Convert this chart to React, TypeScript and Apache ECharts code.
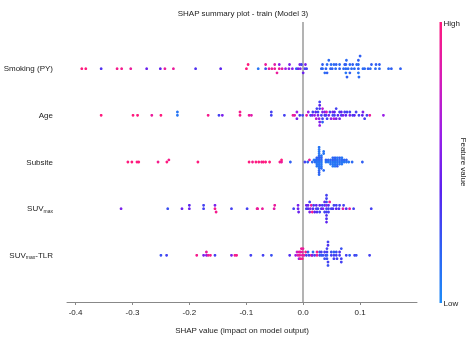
import React, { useEffect, useRef } from "react";
import * as echarts from "echarts";

// [SHAP value, normalized feature value (0 = low, 1 = high)]
const smoking: number[][] = [
  [-0.389, 1], [-0.382, 1], [-0.355, 0.35], [-0.327, 0.95], [-0.319, 0.95], [-0.303, 0.9], [-0.275, 0.45], [-0.251, 0.4], [-0.243, 0.9], [-0.228, 0.9], [-0.189, 0.35], [-0.145, 0.4],
  [-0.0997, 1], [-0.0968, 1], [-0.079, 0.1], [-0.066, 0.25], [-0.066, 0.9], [-0.06, 0.9], [-0.055, 0.9], [-0.05, 0.9], [-0.05, 0.85], [-0.046, 0.9], [-0.042, 0.9], [-0.042, 0.55], [-0.037, 0.85], [-0.031, 0.6], [-0.025, 0.55], [-0.024, 0.5], [-0.019, 0.55], [-0.012, 0.2], [-0.009, 0.45], [-0.006, 0.5], [-0.005, 0.5], [-0.003, 0.3], [0.0, 0.45], [0.003, 0.3], [0.004, 0.5], [0.006, 0.3],
  [0.032, 0.2], [0.034, 0.15], [0.034, 0.2], [0.038, 0.15], [0.04, 0.2], [0.042, 0.15], [0.042, 0.2], [0.045, 0.15], [0.048, 0.2], [0.049, 0.15], [0.051, 0.2], [0.054, 0.15], [0.057, 0.15], [0.058, 0.2], [0.064, 0.2], [0.064, 0.15], [0.071, 0.15], [0.073, 0.2], [0.075, 0.15], [0.075, 0.2], [0.075, 0.1], [0.076, 0.15], [0.077, 0.2], [0.079, 0.15], [0.082, 0.15], [0.082, 0.2], [0.085, 0.15], [0.087, 0.2], [0.09, 0.15], [0.094, 0.15], [0.097, 0.2], [0.097, 0.15], [0.097, 0.1], [0.097, 0.2], [0.098, 0.15], [0.1, 0.2], [0.105, 0.15], [0.108, 0.15], [0.114, 0.2], [0.118, 0.15], [0.12, 0.2], [0.127, 0.15], [0.128, 0.2], [0.134, 0.15], [0.134, 0.2], [0.15, 0.15], [0.155, 0.2], [0.171, 0.2],
];

const age: number[][] = [
  [-0.355, 1], [-0.299, 1], [-0.291, 1], [-0.266, 0.9], [-0.25, 1], [-0.221, 0.1], [-0.221, 0.1], [-0.167, 0.95], [-0.148, 0.3], [-0.142, 0.5], [-0.111, 0.95], [-0.111, 0.95],
  [-0.095, 0.9], [-0.091, 0.85], [-0.056, 0.3], [-0.056, 0.3], [-0.033, 0.3], [-0.018, 0.9], [-0.015, 0.85], [-0.011, 0.6], [-0.011, 0.5], [-0.006, 0.3], [-0.001, 0.3], [0.006, 0.9], [0.009, 0.6], [0.013, 0.3],
  [0.016, 0.5], [0.017, 0.3], [0.02, 0.6], [0.022, 0.4], [0.023, 0.7], [0.024, 0.3], [0.026, 0.5], [0.026, 0.3], [0.028, 0.6], [0.029, 0.3], [0.029, 0.5], [0.029, 0.4], [0.029, 0.6], [0.029, 0.3], [0.032, 0.3], [0.034, 0.5], [0.034, 0.3], [0.034, 0.7], [0.034, 0.2], [0.038, 0.4], [0.038, 0.5], [0.04, 0.3], [0.041, 0.8], [0.042, 0.3], [0.045, 0.5], [0.047, 0.3], [0.049, 0.6], [0.052, 0.3], [0.052, 0.5], [0.054, 0.7], [0.055, 0.3], [0.055, 0.4], [0.058, 0.5], [0.058, 0.3], [0.061, 0.4], [0.064, 0.3], [0.064, 0.5], [0.067, 0.3], [0.067, 0.4], [0.07, 0.5], [0.073, 0.3], [0.075, 0.4], [0.077, 0.3], [0.082, 0.5], [0.082, 0.3], [0.087, 0.3], [0.09, 0.4], [0.093, 0.3], [0.098, 0.3], [0.104, 0.4], [0.105, 0.5], [0.108, 0.3], [0.112, 0.3], [0.117, 0.9], [0.141, 0.6],
];

const subsite: number[][] = [
  [-0.308, 1], [-0.301, 1], [-0.292, 1], [-0.289, 1], [-0.255, 0.95], [-0.2395, 1], [-0.236, 0.95], [-0.185, 1],
  [-0.095, 1], [-0.089, 0.95], [-0.083, 1], [-0.078, 1], [-0.073, 0.95], [-0.07, 1], [-0.066, 1], [-0.059, 1],
  [-0.041, 0.95], [-0.038, 0.9], [-0.038, 1], [-0.0225, 0.2],
  [0.003, 0.3], [0.008, 0.2], [0.011, 0.9], [0.016, 0.15],
  [0.019, 0.1], [0.021, 0.15], [0.022, 0.1],
  [0.024, 0.1], [0.024, 0.15], [0.024, 0.1], [0.024, 0.2], [0.024, 0.1],
  [0.028, 0.1], [0.028, 0.15], [0.028, 0.1], [0.028, 0.2], [0.028, 0.1], [0.028, 0.15], [0.028, 0.1], [0.028, 0.1], [0.028, 0.15], [0.028, 0.1], [0.028, 0.2], [0.028, 0.1], [0.028, 0.15], [0.028, 0.1],
  [0.032, 0.1], [0.032, 0.15], [0.032, 0.1], [0.032, 0.2], [0.032, 0.1], [0.032, 0.1], [0.032, 0.15],
  [0.036, 0.1], [0.036, 0.15], [0.036, 0.1],
  [0.04, 0.1], [0.04, 0.2], [0.044, 0.1], [0.044, 0.15],
  [0.048, 0.1], [0.048, 0.15], [0.048, 0.1],
  [0.052, 0.1], [0.052, 0.2], [0.052, 0.1], [0.052, 0.15], [0.052, 0.1],
  [0.056, 0.1], [0.056, 0.15], [0.056, 0.1], [0.056, 0.2], [0.056, 0.1],
  [0.06, 0.1], [0.06, 0.15], [0.06, 0.1], [0.06, 0.1], [0.06, 0.2],
  [0.064, 0.15], [0.064, 0.1], [0.064, 0.1], [0.064, 0.2],
  [0.068, 0.1], [0.068, 0.15], [0.068, 0.1], [0.068, 0.1],
  [0.072, 0.1], [0.072, 0.15], [0.076, 0.1], [0.076, 0.2], [0.08, 0.1], [0.086, 0.15], [0.104, 0.2],
];

const suvMax: number[][] = [
  [-0.32, 0.5], [-0.238, 0.25], [-0.213, 0.45], [-0.2, 0.45], [-0.2, 0.4], [-0.175, 0.3], [-0.175, 0.3], [-0.155, 0.95], [-0.155, 0.5], [-0.153, 0.95], [-0.126, 0.3],
  [-0.0985, 0.3], [-0.081, 0.9], [-0.08, 0.9], [-0.0716, 0.9], [-0.051, 0.85], [-0.05, 0.9], [-0.0167, 0.3], [-0.009, 0.45], [-0.009, 0.5], [-0.008, 0.45],
  [0.0056, 0.3], [0.0056, 0.45], [0.0085, 0.35], [0.0085, 0.45], [0.0114, 0.5], [0.0114, 0.3], [0.0126, 0.55], [0.0143, 0.9], [0.0161, 0.95], [0.0173, 0.35], [0.0184, 0.3], [0.0202, 0.4], [0.0231, 0.3], [0.0231, 0.45], [0.0243, 0.35], [0.026, 0.3], [0.029, 0.4], [0.029, 0.3], [0.0319, 0.35], [0.0336, 0.3], [0.0348, 0.5],
  [0.0377, 0.3], [0.0377, 0.3], [0.0377, 0.45],
  [0.041, 0.3], [0.041, 0.6], [0.041, 0.3], [0.041, 0.25], [0.041, 0.35], [0.041, 0.3], [0.041, 0.35], [0.041, 0.3], [0.041, 0.4],
  [0.0445, 0.3], [0.0445, 0.35], [0.0445, 0.3], [0.0465, 0.9],
  [0.0494, 0.3], [0.0523, 0.35], [0.054, 0.3], [0.0582, 0.4], [0.0582, 0.3], [0.0629, 0.35], [0.064, 0.3], [0.0699, 0.85], [0.071, 0.3], [0.0757, 0.35], [0.0816, 0.9], [0.0886, 0.3], [0.1196, 0.3],
];

const suvMaxTlr: number[][] = [
  [-0.25, 0.25], [-0.24, 0.3], [-0.187, 0.95], [-0.175, 0.5], [-0.17, 0.55], [-0.17, 0.9], [-0.167, 0.9], [-0.163, 0.95], [-0.155, 0.3], [-0.126, 0.5], [-0.12, 0.95], [-0.117, 0.95],
  [-0.092, 0.3], [-0.0705, 0.3], [-0.0558, 0.25], [-0.0237, 0.35],
  [-0.0132, 0.6], [-0.0108, 0.75], [-0.0091, 0.9], [-0.0073, 0.9], [-0.0073, 0.6], [-0.006, 0.9], [-0.005, 0.85], [-0.005, 0.95], [-0.0032, 0.9], [-0.0015, 0.85], [-0.0015, 0.9], [-0.0015, 0.95], [-0.0003, 0.9], [0.0015, 0.9], [0.0044, 0.95],
  [0.0056, 0.3], [0.0085, 0.2], [0.0102, 0.3], [0.0143, 0.9], [0.0161, 0.5], [0.0173, 0.15], [0.0202, 0.3], [0.0243, 0.9], [0.0243, 0.95], [0.029, 0.3], [0.029, 0.25], [0.0319, 0.2], [0.0319, 0.3], [0.0348, 0.25], [0.0377, 0.3], [0.0377, 0.25], [0.0395, 0.3],
  [0.0418, 0.2], [0.0418, 0.3], [0.0418, 0.25], [0.0418, 0.3], [0.0436, 0.3], [0.0436, 0.35], [0.0436, 0.25], [0.0436, 0.3], [0.0494, 0.3], [0.0494, 0.25], [0.054, 0.3], [0.054, 0.2], [0.054, 0.3], [0.0582, 0.3], [0.0582, 0.25], [0.0594, 0.3], [0.064, 0.3], [0.064, 0.35], [0.067, 0.3], [0.067, 0.25], [0.067, 0.3], [0.0757, 0.3], [0.0816, 0.2], [0.0904, 0.3], [0.0933, 0.25], [0.1167, 0.3],
];

// bottom to top
const features = ["SUVmax-TLR", "SUVmax", "Subsite", "Age", "Smoking (PY)"];
const featureData = [suvMaxTlr, suvMax, subsite, age, smoking];
const xTicks = [-0.4, -0.3, -0.2, -0.1, 0.0, 0.1];

const FONT = "'Liberation Sans', Arial, sans-serif";
const FS = 8;

// SHAP-style beeswarm offsets
function beeswarm(vals: number[]): number[] {
  const N = vals.length;
  const mn = Math.min(...vals);
  const mx = Math.max(...vals);
  const nbins = 100;
  const quant = vals.map((v) => Math.round((nbins * (v - mn)) / (mx - mn + 1e-8)));
  const inds = vals.map((_, i) => i).sort((a, b) => quant[a] - quant[b] || a - b);
  let layer = 0;
  let last = -1;
  const ys = new Array(N).fill(0);
  for (const ind of inds) {
    if (quant[ind] !== last) layer = 0;
    ys[ind] = Math.ceil(layer / 2) * ((layer % 2) * 2 - 1);
    layer++;
    last = quant[ind];
  }
  const m = Math.max(...ys.map((y) => y + 1));
  return ys.map((y) => (y * 0.9 * 0.4) / m);
}

const LOW = "#1e8cf7";
const HIGH = "#ff1a7d";
const cmap = [LOW, "#2f5ff3", "#5b22f0", "#9a1fe8", "#d61cb8", HIGH];

export default function App() {
  const ref = useRef<HTMLDivElement>(null);
  useEffect(() => {
    if (!ref.current) return;
    const chart = echarts.init(ref.current, undefined, { renderer: "svg" });
    const points: number[][] = [];
    featureData.forEach((rows, fi) => {
      const offs = beeswarm(rows.map((r) => r[0]));
      rows.forEach((r, i) => points.push([r[0], fi + offs[i], r[1]]));
    });
    const labelRich = {
      n: { fontSize: FS, fontFamily: FONT, color: "#222" },
      s: { fontSize: 5, fontFamily: FONT, color: "#222", padding: [4, 0, 0, 0] },
    };
    chart.setOption({
      animation: false,
      textStyle: { fontFamily: FONT },
      grid: { left: 67, right: 57, top: 22, bottom: 36 },
      visualMap: {
        show: false,
        type: "continuous",
        min: 0,
        max: 1,
        dimension: 2,
        seriesIndex: 0,
        inRange: { color: cmap },
      },
      xAxis: {
        type: "value",
        min: -0.415,
        max: 0.2,
        axisLine: { show: true, onZero: false, lineStyle: { color: "#888", width: 1 } },
        axisTick: { show: true, length: 3, lineStyle: { color: "#888" }, customValues: xTicks },
        axisLabel: {
          customValues: xTicks,
          fontSize: FS,
          color: "#222",
          margin: 6,
          fontFamily: FONT,
          formatter: (v: number) => v.toFixed(1),
        },
        splitLine: { show: false },
        name: "SHAP value (impact on model output)",
        nameLocation: "middle",
        nameGap: 24,
        nameTextStyle: { fontSize: FS, color: "#222", fontFamily: FONT },
      },
      yAxis: {
        type: "value",
        min: -1,
        max: 5,
        axisLine: { show: false },
        axisTick: { show: false },
        splitLine: { show: false },
        axisLabel: {
          customValues: [0, 1, 2, 3, 4],
          margin: 14,
          formatter: (v: number) => {
            const name = features[Math.round(v)];
            if (name === "SUVmax") return "{n|SUV}{s|max}";
            if (name === "SUVmax-TLR") return "{n|SUV}{s|max}{n|-TLR}";
            return "{n|" + name + "}";
          },
          rich: labelRich,
        },
      },
      series: [
        {
          type: "scatter",
          data: points,
          symbolSize: 2.8,
          itemStyle: { opacity: 1 },
          markLine: {
            silent: true,
            symbol: "none",
            label: { show: false },
            lineStyle: { color: "#9a9a9a", width: 1.5, type: "solid" },
            data: [{ xAxis: 0 }],
            z: 0,
          },
          z: 3,
        },
      ],
      graphic: [
        {
          type: "text",
          x: 243,
          y: 13,
          style: {
            text: "SHAP summary plot - train (Model 3)",
            fontSize: FS,
            fontFamily: FONT,
            fill: "#222",
            textAlign: "center",
            textVerticalAlign: "middle",
          },
        },
        {
          type: "rect",
          shape: { x: 439.5, y: 22, width: 2.5, height: 281 },
          style: {
            fill: new echarts.graphic.LinearGradient(0, 0, 0, 1, [
              { offset: 0, color: HIGH },
              { offset: 0.2, color: "#d61cb8" },
              { offset: 0.4, color: "#9a1fe8" },
              { offset: 0.6, color: "#5b22f0" },
              { offset: 0.8, color: "#2f5ff3" },
              { offset: 1, color: LOW },
            ]),
          },
        },
        {
          type: "text",
          x: 443.5,
          y: 23,
          style: { text: "High", fontSize: FS, fontFamily: FONT, fill: "#222", textVerticalAlign: "middle" },
        },
        {
          type: "text",
          x: 443.5,
          y: 303,
          style: { text: "Low", fontSize: FS, fontFamily: FONT, fill: "#222", textVerticalAlign: "middle" },
        },
        {
          type: "text",
          x: 463,
          y: 162,
          rotation: -Math.PI / 2,
          style: {
            text: "Feature value",
            fontSize: FS,
            fontFamily: FONT,
            fill: "#222",
            textAlign: "center",
            textVerticalAlign: "middle",
          },
        },
      ],
    });
    return () => chart.dispose();
  }, []);
  return <div ref={ref} style={{ width: 474, height: 339, position: "fixed", left: 0, top: 0 }} />;
}
